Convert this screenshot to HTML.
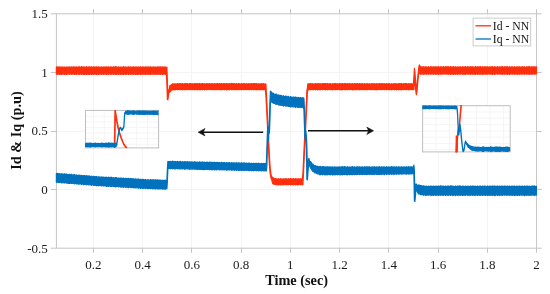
<!DOCTYPE html>
<html><head><meta charset="utf-8"><title>Id &amp; Iq</title>
<style>html,body{margin:0;padding:0;background:#fff}svg{display:block}</style></head>
<body>
<svg width="550" height="294" viewBox="0 0 550 294">
<rect width="550" height="294" fill="#fff"/>
<path d="M93.50 13.8V248.2M142.50 13.8V248.2M191.50 13.8V248.2M241.50 13.8V248.2M290.50 13.8V248.2M339.50 13.8V248.2M388.50 13.8V248.2M438.50 13.8V248.2M487.50 13.8V248.2M56.4 72.50H536.6M56.4 131.50H536.6M56.4 189.50H536.6" stroke="#f4f4f4" stroke-width="1" fill="none"/>
<path d="M56.4 13.8H536.6V248.2H56.4ZM93.50 13.8v-4.6M93.50 248.2v4.6M142.50 13.8v-4.6M142.50 248.2v4.6M191.50 13.8v-4.6M191.50 248.2v4.6M241.50 13.8v-4.6M241.50 248.2v4.6M290.50 13.8v-4.6M290.50 248.2v4.6M339.50 13.8v-4.6M339.50 248.2v4.6M388.50 13.8v-4.6M388.50 248.2v4.6M438.50 13.8v-4.6M438.50 248.2v4.6M487.50 13.8v-4.6M487.50 248.2v4.6M536.50 13.8v-4.6M536.50 248.2v4.6M56.4 13.80h-5.5M536.6 13.80h5M56.4 72.50h-5.5M536.6 72.50h5M56.4 131.50h-5.5M536.6 131.50h5M56.4 189.50h-5.5M536.6 189.50h5M56.4 248.20h-5.5M536.6 248.20h5" stroke="#c4c4c4" stroke-width="1" fill="none"/>
<polygon points="56.4,67.0 56.9,66.8 57.4,67.0 57.9,67.3 58.4,67.1 58.9,67.1 59.4,67.0 59.9,66.8 60.4,67.2 60.9,67.4 61.4,67.3 61.9,66.9 62.4,67.1 62.9,67.4 63.4,67.2 63.9,67.0 64.4,67.0 64.9,67.0 65.4,67.2 65.9,67.4 66.4,67.0 66.9,67.0 67.4,67.0 67.9,67.5 68.4,67.4 68.9,66.9 69.4,66.9 69.9,67.2 70.4,67.3 70.9,67.3 71.4,66.9 71.9,66.9 72.4,67.3 72.9,67.5 73.4,66.9 73.9,66.8 74.4,67.0 74.9,67.1 75.4,67.5 75.9,67.1 76.4,67.0 76.9,66.8 77.4,67.3 77.9,67.4 78.4,67.1 78.9,66.8 79.4,66.8 79.9,67.2 80.4,67.4 80.9,67.1 81.4,66.7 81.9,66.7 82.4,67.3 82.9,67.4 83.4,67.0 83.9,66.9 84.4,67.0 84.9,67.3 85.4,67.4 85.9,67.1 86.4,66.7 86.9,67.1 87.4,67.2 87.9,67.4 88.4,66.9 88.9,66.9 89.4,66.9 89.9,67.4 90.4,67.3 90.9,66.9 91.4,66.8 91.9,67.0 92.4,67.3 92.9,67.4 93.4,67.1 93.9,66.8 94.4,67.0 94.9,67.2 95.4,67.3 95.9,67.0 96.4,66.8 96.9,67.0 97.4,67.4 97.9,67.3 98.4,66.9 98.9,67.1 99.4,67.1 99.9,67.4 100.4,67.2 100.9,66.9 101.4,67.0 101.9,67.1 102.4,67.4 102.9,67.3 103.4,67.0 103.9,66.9 104.4,67.1 104.9,67.5 105.4,67.1 105.9,66.9 106.4,66.9 106.9,67.2 107.4,67.4 107.9,66.9 108.4,66.9 108.9,66.9 109.4,67.2 109.9,67.4 110.4,67.1 110.9,66.9 111.4,66.9 111.9,67.2 112.4,67.5 112.9,67.1 113.4,66.9 113.9,66.9 114.4,67.2 114.9,67.2 115.4,66.7 115.9,66.7 116.4,67.0 116.9,67.4 117.4,67.3 117.9,67.1 118.4,66.9 118.9,67.0 119.4,67.3 119.9,67.3 120.4,67.0 120.9,67.0 121.4,67.1 121.9,67.3 122.4,67.3 122.9,67.0 123.4,66.6 123.9,67.0 124.4,67.4 124.9,67.1 125.4,67.2 125.9,67.0 126.4,67.0 126.9,67.4 127.4,67.4 127.9,67.0 128.4,66.8 128.9,67.0 129.4,67.1 129.9,67.4 130.4,67.0 130.9,66.9 131.4,67.1 131.9,67.4 132.4,67.3 132.9,66.9 133.4,66.8 133.9,67.0 134.4,67.3 134.9,67.3 135.4,67.0 135.9,66.9 136.4,67.1 136.9,67.3 137.4,67.1 137.9,67.0 138.4,66.9 138.9,67.3 139.4,67.3 139.9,67.1 140.4,66.9 140.9,66.9 141.4,67.2 141.9,67.5 142.4,67.2 142.9,66.8 143.4,67.1 143.9,67.2 144.4,67.4 144.9,67.1 145.4,67.0 145.9,66.9 146.4,67.1 146.9,67.2 147.4,67.1 147.9,67.0 148.4,66.9 148.9,67.3 149.4,67.4 149.9,67.0 150.4,66.9 150.9,66.9 151.4,67.3 151.9,67.4 152.4,67.2 152.9,66.9 153.4,67.1 153.9,67.3 154.4,67.3 154.9,67.0 155.4,67.0 155.9,67.1 156.4,67.4 156.9,67.4 157.4,67.0 157.9,66.8 158.4,67.2 158.9,67.2 159.4,67.3 159.9,66.8 160.4,66.9 160.9,67.1 161.4,67.3 161.9,67.1 162.4,67.0 162.9,66.9 163.4,67.1 163.9,67.4 164.4,67.3 164.9,66.9 165.4,66.9 165.9,67.2 166.4,67.4 166.9,67.2 167.4,83.2 167.9,94.5 168.4,91.9 168.9,90.0 169.4,88.8 169.9,85.6 170.4,85.2 170.9,85.0 171.4,84.7 171.9,84.4 172.4,84.0 172.9,83.8 173.4,84.0 173.9,84.1 174.4,84.0 174.9,83.7 175.4,83.9 175.9,84.0 176.4,84.0 176.9,83.8 177.4,83.5 177.9,83.8 178.4,83.9 178.9,84.2 179.4,83.8 179.9,83.6 180.4,83.8 180.9,84.0 181.4,84.1 181.9,83.6 182.4,83.6 182.9,83.9 183.4,84.0 183.9,84.1 184.4,83.8 184.9,83.7 185.4,83.7 185.9,84.1 186.4,83.8 186.9,83.6 187.4,83.7 187.9,83.9 188.4,84.0 188.9,84.0 189.4,83.7 189.9,83.6 190.4,83.7 190.9,84.2 191.4,83.9 191.9,83.8 192.4,83.8 192.9,83.9 193.4,84.1 193.9,84.0 194.4,83.7 194.9,83.7 195.4,83.8 195.9,84.1 196.4,83.8 196.9,83.7 197.4,83.8 197.9,83.8 198.4,84.1 198.9,83.7 199.4,83.7 199.9,83.7 200.4,84.0 200.9,84.0 201.4,83.8 201.9,83.6 202.4,83.6 202.9,83.9 203.4,84.1 203.9,83.9 204.4,83.7 204.9,83.8 205.4,84.0 205.9,84.1 206.4,83.9 206.9,83.6 207.4,83.9 207.9,84.0 208.4,84.1 208.9,83.8 209.4,83.6 209.9,83.7 210.4,84.0 210.9,84.1 211.4,83.9 211.9,83.7 212.4,83.7 212.9,84.0 213.4,84.0 213.9,83.8 214.4,83.7 214.9,83.9 215.4,83.9 215.9,84.1 216.4,83.9 216.9,83.7 217.4,83.5 217.9,84.0 218.4,84.0 218.9,83.8 219.4,83.7 219.9,83.9 220.4,84.1 220.9,83.9 221.4,83.5 221.9,83.8 222.4,83.9 222.9,84.2 223.4,83.8 223.9,83.7 224.4,83.6 224.9,83.8 225.4,84.0 225.9,84.0 226.4,83.6 226.9,83.6 227.4,83.9 227.9,84.2 228.4,83.9 228.9,83.7 229.4,83.8 229.9,83.8 230.4,84.1 230.9,83.9 231.4,83.4 231.9,83.7 232.4,83.8 232.9,84.0 233.4,83.7 233.9,83.6 234.4,83.8 234.9,83.9 235.4,84.1 235.9,84.0 236.4,83.6 236.9,83.8 237.4,84.0 237.9,84.1 238.4,83.8 238.9,83.6 239.4,83.8 239.9,84.0 240.4,84.0 240.9,83.9 241.4,83.7 241.9,83.7 242.4,83.9 242.9,84.2 243.4,83.8 243.9,83.7 244.4,83.8 244.9,84.0 245.4,84.1 245.9,83.9 246.4,83.7 246.9,83.8 247.4,84.0 247.9,84.1 248.4,83.8 248.9,83.7 249.4,83.9 249.9,84.1 250.4,84.0 250.9,83.7 251.4,83.7 251.9,83.8 252.4,84.1 252.9,83.9 253.4,83.6 253.9,83.6 254.4,83.8 254.9,84.1 255.4,83.8 255.9,83.7 256.4,83.6 256.9,84.0 257.4,84.1 257.9,83.9 258.4,83.9 258.9,83.8 259.4,84.0 259.9,84.1 260.4,83.9 260.9,83.8 261.4,83.7 261.9,83.9 262.4,84.0 262.9,83.9 263.4,83.6 263.9,83.8 264.4,84.0 264.9,84.2 265.4,83.9 265.9,84.0 266.4,94.7 266.9,104.5 267.4,114.3 267.9,124.5 268.4,134.6 268.9,145.6 269.4,155.5 269.9,164.3 270.4,169.9 270.9,173.7 271.4,176.3 271.9,177.1 272.4,177.1 272.9,177.7 273.4,177.9 273.9,178.4 274.4,178.9 274.9,179.1 275.4,178.7 275.9,178.7 276.4,178.9 276.9,179.1 277.4,179.1 277.9,178.9 278.4,178.8 278.9,178.8 279.4,179.3 279.9,179.1 280.4,178.8 280.9,178.8 281.4,179.0 281.9,179.2 282.4,179.2 282.9,178.9 283.4,178.8 283.9,179.0 284.4,179.1 284.9,179.1 285.4,178.8 285.9,178.7 286.4,178.9 286.9,179.1 287.4,179.0 287.9,178.9 288.4,178.7 288.9,178.9 289.4,179.3 289.9,179.0 290.4,178.7 290.9,178.7 291.4,179.0 291.9,179.2 292.4,178.9 292.9,178.7 293.4,178.8 293.9,179.0 294.4,179.2 294.9,178.9 295.4,178.6 295.9,178.8 296.4,179.1 296.9,179.2 297.4,179.0 297.9,178.8 298.4,178.8 298.9,179.1 299.4,179.0 299.9,179.0 300.4,178.7 300.9,178.9 301.4,179.0 301.9,179.1 302.4,178.6 302.9,173.9 303.4,163.5 303.9,152.4 304.4,142.1 304.9,131.7 305.4,121.8 305.9,111.9 306.4,101.8 306.9,90.5 307.4,88.1 307.9,83.8 308.4,83.8 308.9,84.1 309.4,84.1 309.9,83.6 310.4,83.7 310.9,83.8 311.4,84.1 311.9,83.9 312.4,83.7 312.9,83.8 313.4,84.0 313.9,84.0 314.4,84.0 314.9,83.8 315.4,83.6 315.9,83.7 316.4,84.1 316.9,84.0 317.4,83.8 317.9,83.7 318.4,83.7 318.9,84.1 319.4,83.8 319.9,83.8 320.4,83.8 320.9,83.8 321.4,84.1 321.9,84.0 322.4,83.8 322.9,83.6 323.4,83.6 323.9,84.1 324.4,83.9 324.9,83.5 325.4,83.6 325.9,83.9 326.4,84.1 326.9,83.8 327.4,83.6 327.9,83.7 328.4,84.0 328.9,84.2 329.4,83.8 329.9,83.8 330.4,83.6 330.9,84.0 331.4,84.2 331.9,83.9 332.4,83.8 332.9,83.8 333.4,83.9 333.9,84.1 334.4,83.9 334.9,83.5 335.4,83.8 335.9,83.8 336.4,84.1 336.9,83.9 337.4,83.8 337.9,83.8 338.4,84.0 338.9,84.0 339.4,83.6 339.9,83.6 340.4,83.9 340.9,84.0 341.4,84.0 341.9,83.6 342.4,83.6 342.9,83.7 343.4,84.1 343.9,84.0 344.4,83.7 344.9,83.7 345.4,83.7 345.9,84.1 346.4,84.1 346.9,83.7 347.4,83.7 347.9,83.9 348.4,84.2 348.9,83.8 349.4,83.7 349.9,83.5 350.4,84.0 350.9,84.2 351.4,84.0 351.9,83.7 352.4,83.7 352.9,84.0 353.4,84.3 353.9,83.8 354.4,83.7 354.9,83.7 355.4,83.9 355.9,84.1 356.4,84.0 356.9,83.5 357.4,83.6 357.9,84.0 358.4,84.1 358.9,83.9 359.4,83.6 359.9,83.8 360.4,83.9 360.9,84.0 361.4,83.8 361.9,83.8 362.4,83.7 362.9,84.1 363.4,84.2 363.9,83.9 364.4,83.7 364.9,83.8 365.4,84.0 365.9,84.0 366.4,83.9 366.9,83.7 367.4,83.8 367.9,83.9 368.4,84.0 368.9,83.9 369.4,83.7 369.9,83.9 370.4,84.0 370.9,84.0 371.4,83.8 371.9,83.7 372.4,83.8 372.9,84.2 373.4,83.9 373.9,83.8 374.4,83.8 374.9,83.8 375.4,84.1 375.9,84.0 376.4,83.7 376.9,83.8 377.4,83.9 377.9,84.0 378.4,84.0 378.9,83.7 379.4,83.7 379.9,83.8 380.4,84.1 380.9,83.9 381.4,83.7 381.9,83.7 382.4,83.8 382.9,84.2 383.4,83.9 383.9,83.7 384.4,83.8 384.9,83.9 385.4,84.1 385.9,84.0 386.4,83.7 386.9,83.8 387.4,84.0 387.9,84.1 388.4,83.8 388.9,83.7 389.4,83.7 389.9,84.0 390.4,84.2 390.9,84.0 391.4,83.7 391.9,83.9 392.4,84.0 392.9,84.1 393.4,83.9 393.9,83.7 394.4,83.8 394.9,84.0 395.4,83.9 395.9,83.8 396.4,83.8 396.9,83.8 397.4,84.0 397.9,84.1 398.4,83.9 398.9,83.6 399.4,83.7 399.9,83.9 400.4,84.1 400.9,83.8 401.4,83.6 401.9,83.8 402.4,84.1 402.9,84.0 403.4,83.9 403.9,83.6 404.4,83.9 404.9,84.2 405.4,83.7 405.9,83.7 406.4,83.7 406.9,83.8 407.4,84.2 407.9,84.0 408.4,83.8 408.9,83.7 409.4,83.9 409.9,84.1 410.4,83.9 410.9,83.8 411.4,83.6 411.9,84.0 412.4,84.1 412.9,84.0 413.4,83.7 413.9,77.5 414.4,68.4 414.9,72.1 415.4,78.6 415.9,85.0 416.4,91.5 416.9,86.2 417.4,81.1 417.9,75.9 418.4,71.0 418.9,66.9 419.4,64.8 419.9,66.1 420.4,67.0 420.9,66.9 421.4,66.9 421.9,67.1 422.4,67.2 422.9,66.9 423.4,66.7 423.9,66.9 424.4,67.2 424.9,67.1 425.4,67.0 425.9,66.7 426.4,67.1 426.9,67.4 427.4,67.4 427.9,67.0 428.4,66.6 428.9,67.0 429.4,67.3 429.9,67.3 430.4,66.9 430.9,66.7 431.4,66.8 431.9,67.3 432.4,67.2 432.9,66.9 433.4,66.8 433.9,66.9 434.4,67.3 434.9,67.1 435.4,66.9 435.9,66.8 436.4,67.0 436.9,67.3 437.4,67.2 437.9,66.8 438.4,66.7 438.9,67.1 439.4,67.2 439.9,67.3 440.4,66.9 440.9,66.7 441.4,67.0 441.9,67.4 442.4,67.3 442.9,66.8 443.4,66.6 443.9,67.0 444.4,67.3 444.9,67.1 445.4,66.7 445.9,66.8 446.4,66.8 446.9,67.4 447.4,66.9 447.9,66.6 448.4,66.9 448.9,67.0 449.4,67.3 449.9,67.0 450.4,66.6 450.9,66.8 451.4,67.0 451.9,67.3 452.4,67.1 452.9,66.8 453.4,66.7 453.9,67.1 454.4,67.2 454.9,67.1 455.4,66.8 455.9,67.0 456.4,67.3 456.9,67.3 457.4,67.0 457.9,66.8 458.4,67.0 458.9,67.2 459.4,67.3 459.9,66.9 460.4,66.8 460.9,67.0 461.4,67.3 461.9,67.4 462.4,67.0 462.9,66.6 463.4,67.0 463.9,67.2 464.4,67.2 464.9,66.8 465.4,66.6 465.9,67.0 466.4,67.2 466.9,67.0 467.4,66.8 467.9,66.7 468.4,67.2 468.9,67.2 469.4,67.3 469.9,66.9 470.4,66.7 470.9,67.0 471.4,66.9 471.9,67.0 472.4,66.8 472.9,66.9 473.4,67.1 473.9,67.4 474.4,67.2 474.9,66.9 475.4,66.5 475.9,67.1 476.4,67.1 476.9,67.0 477.4,66.8 477.9,66.8 478.4,67.1 478.9,67.4 479.4,66.8 479.9,66.8 480.4,66.7 480.9,67.0 481.4,67.4 481.9,67.0 482.4,66.9 482.9,66.8 483.4,67.2 483.9,67.3 484.4,66.9 484.9,66.7 485.4,66.9 485.9,67.2 486.4,67.3 486.9,66.8 487.4,66.8 487.9,66.8 488.4,67.2 488.9,67.4 489.4,67.0 489.9,66.9 490.4,66.9 490.9,67.2 491.4,67.4 491.9,66.6 492.4,66.7 492.9,67.0 493.4,67.3 493.9,67.3 494.4,66.9 494.9,66.7 495.4,67.0 495.9,67.3 496.4,67.2 496.9,67.0 497.4,66.6 497.9,67.1 498.4,67.3 498.9,67.2 499.4,66.9 499.9,66.8 500.4,67.0 500.9,67.2 501.4,67.2 501.9,66.6 502.4,66.6 502.9,67.1 503.4,67.3 503.9,67.1 504.4,66.8 504.9,66.8 505.4,67.1 505.9,67.2 506.4,66.9 506.9,66.7 507.4,66.8 507.9,67.2 508.4,67.3 508.9,67.1 509.4,66.8 509.9,66.9 510.4,67.2 510.9,67.2 511.4,67.0 511.9,66.7 512.4,66.9 512.9,67.3 513.4,67.4 513.9,67.0 514.4,66.7 514.9,67.0 515.4,67.2 515.9,67.3 516.4,67.0 516.9,66.8 517.4,66.9 517.9,67.3 518.4,67.2 518.9,66.9 519.4,66.8 519.9,66.8 520.4,67.3 520.9,67.2 521.4,66.9 521.9,66.8 522.4,66.8 522.9,67.2 523.4,67.0 523.9,67.0 524.4,66.7 524.9,67.0 525.4,67.4 525.9,67.2 526.4,67.0 526.9,66.7 527.4,67.0 527.9,67.3 528.4,67.1 528.9,66.6 529.4,66.9 529.9,66.9 530.4,67.3 530.9,67.3 531.4,66.9 531.9,66.7 532.4,67.0 532.9,67.3 533.4,67.1 533.9,66.8 534.4,66.8 534.9,67.1 535.4,67.4 535.9,67.1 536.4,66.8 536.4,74.0 535.9,74.0 535.4,73.7 534.9,74.1 534.4,74.2 533.9,74.1 533.4,74.0 532.9,74.0 532.4,73.9 531.9,74.2 531.4,74.3 530.9,74.0 530.4,73.7 529.9,74.0 529.4,74.2 528.9,74.3 528.4,73.8 527.9,73.7 527.4,74.0 526.9,74.2 526.4,74.1 525.9,74.0 525.4,73.7 524.9,74.0 524.4,74.3 523.9,73.9 523.4,74.0 522.9,73.7 522.4,74.0 521.9,74.3 521.4,74.0 520.9,73.8 520.4,74.0 519.9,74.1 519.4,74.2 518.9,74.2 518.4,73.8 517.9,73.8 517.4,74.2 516.9,74.3 516.4,73.9 515.9,73.8 515.4,73.8 514.9,74.2 514.4,74.1 513.9,74.0 513.4,73.7 512.9,73.9 512.4,74.1 511.9,74.1 511.4,74.0 510.9,73.7 510.4,74.0 509.9,74.3 509.4,74.3 508.9,74.0 508.4,73.6 507.9,74.0 507.4,74.4 506.9,74.2 506.4,73.9 505.9,73.6 505.4,73.9 504.9,74.1 504.4,74.2 503.9,73.9 503.4,73.6 502.9,73.9 502.4,74.3 501.9,74.3 501.4,74.0 500.9,74.0 500.4,74.0 499.9,74.1 499.4,74.1 498.9,73.9 498.4,73.7 497.9,74.0 497.4,74.2 496.9,74.0 496.4,73.8 495.9,73.6 495.4,74.1 494.9,74.3 494.4,74.2 493.9,73.8 493.4,73.7 492.9,74.2 492.4,74.4 491.9,74.1 491.4,73.9 490.9,73.9 490.4,73.9 489.9,74.2 489.4,73.9 488.9,73.8 488.4,73.9 487.9,74.0 487.4,74.1 486.9,74.3 486.4,73.6 485.9,73.8 485.4,74.1 484.9,74.2 484.4,74.0 483.9,73.8 483.4,73.7 482.9,74.3 482.4,74.2 481.9,74.1 481.4,73.8 480.9,73.9 480.4,74.1 479.9,74.3 479.4,74.0 478.9,73.7 478.4,74.0 477.9,74.3 477.4,74.2 476.9,74.0 476.4,73.8 475.9,73.9 475.4,74.4 474.9,74.4 474.4,74.0 473.9,73.8 473.4,73.9 472.9,74.1 472.4,74.1 471.9,73.9 471.4,73.7 470.9,73.9 470.4,74.3 469.9,74.2 469.4,74.0 468.9,73.8 468.4,74.0 467.9,74.3 467.4,74.0 466.9,73.8 466.4,73.8 465.9,73.9 465.4,74.3 464.9,74.2 464.4,74.1 463.9,73.9 463.4,74.1 462.9,74.3 462.4,74.1 461.9,73.6 461.4,73.7 460.9,74.0 460.4,74.2 459.9,73.9 459.4,73.9 458.9,73.7 458.4,74.0 457.9,74.3 457.4,74.2 456.9,73.8 456.4,73.9 455.9,74.3 455.4,74.2 454.9,74.1 454.4,73.8 453.9,73.7 453.4,74.4 452.9,74.3 452.4,73.9 451.9,73.7 451.4,73.7 450.9,74.3 450.4,74.3 449.9,74.0 449.4,73.6 448.9,73.9 448.4,74.2 447.9,74.1 447.4,73.9 446.9,73.7 446.4,74.1 445.9,74.1 445.4,74.0 444.9,74.0 444.4,73.7 443.9,73.9 443.4,74.1 442.9,74.1 442.4,74.0 441.9,73.9 441.4,74.0 440.9,74.1 440.4,74.2 439.9,74.0 439.4,73.6 438.9,74.1 438.4,74.3 437.9,74.2 437.4,74.0 436.9,73.6 436.4,74.1 435.9,74.4 435.4,74.1 434.9,73.8 434.4,73.7 433.9,74.0 433.4,74.3 432.9,74.0 432.4,73.8 431.9,73.8 431.4,74.1 430.9,74.3 430.4,74.0 429.9,73.7 429.4,73.8 428.9,74.0 428.4,74.2 427.9,73.9 427.4,73.7 426.9,73.9 426.4,74.1 425.9,74.1 425.4,74.1 424.9,73.8 424.4,73.9 423.9,74.2 423.4,74.1 422.9,74.2 422.4,73.6 421.9,73.8 421.4,74.1 420.9,74.2 420.4,74.1 419.9,73.6 419.4,72.5 418.9,71.0 418.4,76.1 417.9,81.3 417.4,86.6 416.9,91.7 416.4,94.6 415.9,92.0 415.4,85.5 414.9,78.8 414.4,78.6 413.9,89.8 413.4,89.6 412.9,89.6 412.4,89.3 411.9,89.6 411.4,89.6 410.9,89.6 410.4,89.4 409.9,89.3 409.4,89.6 408.9,89.6 408.4,89.8 407.9,89.4 407.4,89.2 406.9,89.4 406.4,89.6 405.9,89.8 405.4,89.4 404.9,89.4 404.4,89.5 403.9,89.8 403.4,89.6 402.9,89.4 402.4,89.3 401.9,89.7 401.4,89.8 400.9,89.5 400.4,89.4 399.9,89.6 399.4,89.7 398.9,89.7 398.4,89.6 397.9,89.4 397.4,89.3 396.9,89.6 396.4,89.9 395.9,89.6 395.4,89.3 394.9,89.4 394.4,89.6 393.9,89.7 393.4,89.4 392.9,89.2 392.4,89.4 391.9,89.8 391.4,89.7 390.9,89.6 390.4,89.3 389.9,89.6 389.4,89.7 388.9,89.7 388.4,89.6 387.9,89.3 387.4,89.5 386.9,89.6 386.4,89.7 385.9,89.5 385.4,89.2 384.9,89.5 384.4,89.7 383.9,89.7 383.4,89.5 382.9,89.2 382.4,89.5 381.9,89.7 381.4,89.7 380.9,89.5 380.4,89.3 379.9,89.5 379.4,89.7 378.9,89.7 378.4,89.4 377.9,89.3 377.4,89.5 376.9,89.8 376.4,89.7 375.9,89.4 375.4,89.4 374.9,89.7 374.4,89.7 373.9,89.6 373.4,89.5 372.9,89.3 372.4,89.6 371.9,89.7 371.4,89.6 370.9,89.5 370.4,89.4 369.9,89.6 369.4,89.7 368.9,89.5 368.4,89.3 367.9,89.3 367.4,89.7 366.9,89.7 366.4,89.6 365.9,89.3 365.4,89.4 364.9,89.6 364.4,89.8 363.9,89.6 363.4,89.4 362.9,89.4 362.4,89.5 361.9,89.8 361.4,89.6 360.9,89.3 360.4,89.4 359.9,89.8 359.4,89.7 358.9,89.6 358.4,89.3 357.9,89.3 357.4,89.7 356.9,89.7 356.4,89.6 355.9,89.4 355.4,89.4 354.9,89.6 354.4,89.7 353.9,89.6 353.4,89.4 352.9,89.7 352.4,89.8 351.9,89.7 351.4,89.5 350.9,89.3 350.4,89.5 349.9,89.6 349.4,89.7 348.9,89.5 348.4,89.3 347.9,89.4 347.4,89.7 346.9,89.7 346.4,89.3 345.9,89.4 345.4,89.5 344.9,89.8 344.4,89.6 343.9,89.3 343.4,89.4 342.9,89.5 342.4,89.9 341.9,89.6 341.4,89.4 340.9,89.4 340.4,89.7 339.9,89.8 339.4,89.5 338.9,89.4 338.4,89.5 337.9,89.6 337.4,89.7 336.9,89.6 336.4,89.3 335.9,89.4 335.4,89.7 334.9,89.7 334.4,89.5 333.9,89.3 333.4,89.4 332.9,89.7 332.4,89.8 331.9,89.8 331.4,89.4 330.9,89.4 330.4,89.7 329.9,89.7 329.4,89.5 328.9,89.4 328.4,89.5 327.9,89.6 327.4,89.8 326.9,89.5 326.4,89.2 325.9,89.5 325.4,89.9 324.9,89.6 324.4,89.5 323.9,89.3 323.4,89.5 322.9,89.6 322.4,89.6 321.9,89.3 321.4,89.3 320.9,89.6 320.4,89.6 319.9,89.9 319.4,89.4 318.9,89.4 318.4,89.5 317.9,89.8 317.4,89.8 316.9,89.4 316.4,89.2 315.9,89.7 315.4,89.8 314.9,89.5 314.4,89.4 313.9,89.3 313.4,89.6 312.9,89.6 312.4,89.7 311.9,89.5 311.4,89.2 310.9,89.6 310.4,89.7 309.9,89.6 309.4,89.5 308.9,89.3 308.4,89.6 307.9,90.4 307.4,91.9 306.9,102.2 306.4,112.5 305.9,122.5 305.4,132.4 304.9,142.5 304.4,153.8 303.9,164.1 303.4,174.5 302.9,184.6 302.4,184.7 301.9,184.3 301.4,184.5 300.9,184.7 300.4,184.7 299.9,184.5 299.4,184.4 298.9,184.4 298.4,184.8 297.9,184.8 297.4,184.8 296.9,184.4 296.4,184.5 295.9,184.8 295.4,184.8 294.9,184.6 294.4,184.3 293.9,184.6 293.4,184.8 292.9,184.7 292.4,184.6 291.9,184.6 291.4,184.6 290.9,184.7 290.4,184.8 289.9,184.5 289.4,184.3 288.9,184.6 288.4,184.7 287.9,184.8 287.4,184.5 286.9,184.4 286.4,184.6 285.9,184.7 285.4,184.7 284.9,184.5 284.4,184.4 283.9,184.6 283.4,184.8 282.9,184.8 282.4,184.5 281.9,184.4 281.4,184.7 280.9,184.8 280.4,185.0 279.9,184.5 279.4,184.5 278.9,184.6 278.4,184.9 277.9,184.7 277.4,184.4 276.9,184.4 276.4,184.6 275.9,184.8 275.4,184.6 274.9,184.3 274.4,184.1 273.9,184.1 273.4,184.1 272.9,183.8 272.4,182.9 271.9,180.1 271.4,179.1 270.9,177.5 270.4,174.9 269.9,170.6 269.4,165.0 268.9,156.1 268.4,146.3 267.9,136.1 267.4,124.9 266.9,114.8 266.4,105.1 265.9,95.4 265.4,89.5 264.9,89.3 264.4,89.5 263.9,89.8 263.4,89.7 262.9,89.6 262.4,89.3 261.9,89.6 261.4,89.7 260.9,89.8 260.4,89.5 259.9,89.2 259.4,89.6 258.9,89.7 258.4,89.7 257.9,89.3 257.4,89.4 256.9,89.6 256.4,89.7 255.9,89.8 255.4,89.5 254.9,89.3 254.4,89.6 253.9,89.8 253.4,89.7 252.9,89.4 252.4,89.3 251.9,89.6 251.4,89.6 250.9,89.6 250.4,89.4 249.9,89.5 249.4,89.7 248.9,89.7 248.4,89.6 247.9,89.3 247.4,89.3 246.9,89.7 246.4,89.7 245.9,89.7 245.4,89.2 244.9,89.4 244.4,89.5 243.9,89.8 243.4,89.5 242.9,89.4 242.4,89.3 241.9,89.6 241.4,89.8 240.9,89.6 240.4,89.4 239.9,89.5 239.4,89.6 238.9,89.6 238.4,89.5 237.9,89.4 237.4,89.4 236.9,89.7 236.4,89.7 235.9,89.6 235.4,89.3 234.9,89.4 234.4,89.7 233.9,89.8 233.4,89.6 232.9,89.3 232.4,89.5 231.9,89.6 231.4,89.6 230.9,89.5 230.4,89.2 229.9,89.5 229.4,89.7 228.9,89.8 228.4,89.4 227.9,89.3 227.4,89.8 226.9,89.8 226.4,89.7 225.9,89.5 225.4,89.3 224.9,89.5 224.4,89.8 223.9,89.6 223.4,89.4 222.9,89.3 222.4,89.6 221.9,89.6 221.4,89.6 220.9,89.4 220.4,89.4 219.9,89.7 219.4,89.7 218.9,89.6 218.4,89.4 217.9,89.2 217.4,89.6 216.9,89.7 216.4,89.6 215.9,89.5 215.4,89.4 214.9,89.7 214.4,89.7 213.9,89.6 213.4,89.4 212.9,89.3 212.4,89.6 211.9,89.7 211.4,89.7 210.9,89.4 210.4,89.4 209.9,89.5 209.4,89.7 208.9,89.5 208.4,89.2 207.9,89.4 207.4,89.6 206.9,89.7 206.4,89.4 205.9,89.2 205.4,89.4 204.9,89.8 204.4,89.8 203.9,89.4 203.4,89.3 202.9,89.4 202.4,89.7 201.9,89.6 201.4,89.4 200.9,89.4 200.4,89.8 199.9,89.7 199.4,89.7 198.9,89.6 198.4,89.3 197.9,89.4 197.4,89.8 196.9,89.7 196.4,89.4 195.9,89.2 195.4,89.4 194.9,89.7 194.4,89.7 193.9,89.6 193.4,89.3 192.9,89.6 192.4,89.7 191.9,89.7 191.4,89.4 190.9,89.3 190.4,89.5 189.9,89.8 189.4,89.6 188.9,89.4 188.4,89.3 187.9,89.6 187.4,89.7 186.9,89.7 186.4,89.2 185.9,89.4 185.4,89.6 184.9,89.7 184.4,89.6 183.9,89.5 183.4,89.3 182.9,89.7 182.4,89.9 181.9,89.6 181.4,89.3 180.9,89.3 180.4,89.6 179.9,89.8 179.4,89.5 178.9,89.4 178.4,89.4 177.9,89.7 177.4,89.6 176.9,89.5 176.4,89.2 175.9,89.4 175.4,89.8 174.9,89.8 174.4,89.5 173.9,89.4 173.4,89.7 172.9,89.8 172.4,90.0 171.9,89.9 171.4,90.1 170.9,90.6 170.4,91.4 169.9,92.0 169.4,91.1 168.9,92.8 168.4,95.8 167.9,99.6 167.4,99.6 166.9,83.9 166.4,73.8 165.9,73.9 165.4,74.4 164.9,74.2 164.4,73.9 163.9,73.8 163.4,74.0 162.9,74.2 162.4,74.4 161.9,74.0 161.4,74.0 160.9,74.1 160.4,74.3 159.9,74.4 159.4,74.0 158.9,73.8 158.4,74.1 157.9,74.3 157.4,74.3 156.9,74.0 156.4,73.9 155.9,74.1 155.4,74.2 154.9,74.1 154.4,74.2 153.9,74.0 153.4,74.1 152.9,74.2 152.4,74.1 151.9,73.8 151.4,74.0 150.9,74.3 150.4,74.5 149.9,74.5 149.4,73.8 148.9,74.1 148.4,74.2 147.9,74.3 147.4,74.2 146.9,74.0 146.4,73.9 145.9,74.3 145.4,74.4 144.9,74.3 144.4,73.8 143.9,74.1 143.4,74.2 142.9,74.2 142.4,74.2 141.9,73.8 141.4,74.2 140.9,74.3 140.4,74.4 139.9,74.1 139.4,73.8 138.9,74.1 138.4,74.3 137.9,74.5 137.4,74.2 136.9,73.9 136.4,74.3 135.9,74.3 135.4,74.4 134.9,74.0 134.4,73.7 133.9,74.0 133.4,74.3 132.9,74.3 132.4,74.1 131.9,73.9 131.4,74.0 130.9,74.2 130.4,74.2 129.9,73.9 129.4,73.9 128.9,74.1 128.4,74.4 127.9,74.1 127.4,73.8 126.9,73.8 126.4,74.2 125.9,74.6 125.4,74.2 124.9,73.9 124.4,73.9 123.9,74.3 123.4,74.4 122.9,74.2 122.4,74.1 121.9,74.2 121.4,74.2 120.9,74.2 120.4,74.4 119.9,73.7 119.4,73.9 118.9,74.3 118.4,74.5 117.9,74.1 117.4,73.8 116.9,73.9 116.4,74.2 115.9,74.5 115.4,74.2 114.9,73.8 114.4,74.0 113.9,74.2 113.4,74.3 112.9,74.1 112.4,73.7 111.9,73.9 111.4,74.3 110.9,74.3 110.4,74.0 109.9,73.7 109.4,73.9 108.9,74.2 108.4,74.3 107.9,73.9 107.4,73.8 106.9,74.2 106.4,74.3 105.9,74.3 105.4,74.1 104.9,73.8 104.4,73.9 103.9,74.4 103.4,74.4 102.9,73.8 102.4,73.6 101.9,74.1 101.4,74.3 100.9,74.2 100.4,74.0 99.9,73.8 99.4,74.2 98.9,74.2 98.4,74.3 97.9,74.0 97.4,73.9 96.9,74.1 96.4,74.5 95.9,74.2 95.4,74.0 94.9,73.9 94.4,74.1 93.9,74.4 93.4,74.3 92.9,73.9 92.4,73.9 91.9,74.4 91.4,74.4 90.9,74.1 90.4,73.8 89.9,74.0 89.4,74.5 88.9,74.5 88.4,74.2 87.9,74.0 87.4,73.9 86.9,74.2 86.4,74.4 85.9,74.1 85.4,73.9 84.9,74.0 84.4,74.5 83.9,74.4 83.4,74.3 82.9,73.8 82.4,74.0 81.9,74.3 81.4,74.3 80.9,74.0 80.4,73.8 79.9,74.2 79.4,74.3 78.9,74.3 78.4,74.0 77.9,73.8 77.4,74.0 76.9,74.3 76.4,74.5 75.9,74.0 75.4,73.8 74.9,74.2 74.4,74.3 73.9,74.3 73.4,74.0 72.9,73.8 72.4,74.1 71.9,74.3 71.4,74.2 70.9,74.0 70.4,73.8 69.9,74.1 69.4,74.2 68.9,74.2 68.4,74.0 67.9,73.7 67.4,74.0 66.9,74.4 66.4,74.4 65.9,74.0 65.4,73.8 64.9,74.2 64.4,74.4 63.9,74.1 63.4,73.9 62.9,73.8 62.4,74.2 61.9,74.2 61.4,74.5 60.9,73.9 60.4,74.0 59.9,74.2 59.4,74.4 58.9,74.2 58.4,73.8 57.9,73.8 57.4,74.2 56.9,74.4 56.4,74.0" fill="#ff2e0c" stroke="#ff2e0c" stroke-width="1.2" stroke-linejoin="round"/>
<polygon points="56.4,173.6 56.9,173.4 57.4,173.3 57.9,173.8 58.4,173.9 58.9,173.7 59.4,173.6 59.9,173.9 60.4,174.2 60.9,174.1 61.4,173.9 61.9,173.7 62.4,173.9 62.9,174.6 63.4,174.5 63.9,174.0 64.4,173.9 64.9,173.8 65.4,174.4 65.9,174.7 66.4,174.1 66.9,174.2 67.4,174.6 67.9,174.7 68.4,174.6 68.9,174.5 69.4,174.3 69.9,174.6 70.4,174.9 70.9,174.9 71.4,174.4 71.9,174.6 72.4,175.0 72.9,175.0 73.4,175.2 73.9,174.7 74.4,174.6 74.9,175.4 75.4,175.2 75.9,175.2 76.4,174.9 76.9,175.0 77.4,175.6 77.9,175.6 78.4,175.5 78.9,175.0 79.4,175.3 79.9,175.4 80.4,176.0 80.9,175.7 81.4,175.3 81.9,175.5 82.4,175.8 82.9,176.0 83.4,175.6 83.9,175.6 84.4,175.6 84.9,175.9 85.4,176.3 85.9,176.1 86.4,175.6 86.9,175.6 87.4,176.4 87.9,176.4 88.4,176.2 88.9,175.8 89.4,176.1 89.9,176.6 90.4,176.8 90.9,176.3 91.4,176.2 91.9,176.3 92.4,176.9 92.9,176.9 93.4,176.4 93.9,176.4 94.4,176.5 94.9,177.1 95.4,177.1 95.9,176.5 96.4,176.4 96.9,176.8 97.4,177.0 97.9,177.3 98.4,176.8 98.9,176.8 99.4,177.0 99.9,177.2 100.4,177.2 100.9,177.0 101.4,176.9 101.9,177.2 102.4,177.4 102.9,177.1 103.4,177.1 103.9,177.3 104.4,177.3 104.9,177.7 105.4,177.6 105.9,177.1 106.4,177.3 106.9,177.4 107.4,177.7 107.9,177.5 108.4,177.2 108.9,177.3 109.4,177.7 109.9,178.0 110.4,177.4 110.9,177.5 111.4,177.2 111.9,178.0 112.4,178.2 112.9,177.8 113.4,177.7 113.9,177.8 114.4,178.0 114.9,178.4 115.4,177.7 115.9,177.6 116.4,177.7 116.9,178.3 117.4,178.4 117.9,178.1 118.4,178.0 118.9,178.1 119.4,178.3 119.9,178.4 120.4,178.0 120.9,178.1 121.4,178.1 121.9,178.6 122.4,178.6 122.9,178.1 123.4,178.1 123.9,178.4 124.4,178.8 124.9,178.7 125.4,178.5 125.9,178.3 126.4,178.6 126.9,179.0 127.4,178.9 127.9,178.3 128.4,178.3 128.9,178.8 129.4,179.1 129.9,178.9 130.4,178.5 130.9,178.5 131.4,178.7 131.9,179.3 132.4,179.1 132.9,178.7 133.4,178.8 133.9,179.3 134.4,179.2 134.9,179.3 135.4,179.1 135.9,178.8 136.4,179.3 136.9,179.7 137.4,179.4 137.9,178.9 138.4,179.0 138.9,179.5 139.4,179.8 139.9,179.4 140.4,179.3 140.9,179.3 141.4,179.7 141.9,180.1 142.4,179.5 142.9,179.3 143.4,179.4 143.9,179.9 144.4,180.0 144.9,179.6 145.4,179.6 145.9,179.6 146.4,180.2 146.9,180.2 147.4,179.9 147.9,179.7 148.4,179.8 148.9,180.0 149.4,180.2 149.9,179.9 150.4,179.5 150.9,179.8 151.4,180.1 151.9,180.0 152.4,180.0 152.9,179.7 153.4,179.9 153.9,179.9 154.4,180.3 154.9,179.9 155.4,179.8 155.9,179.9 156.4,180.6 156.9,180.2 157.4,179.8 157.9,180.0 158.4,180.0 158.9,180.6 159.4,180.2 159.9,180.1 160.4,180.0 160.9,180.1 161.4,180.6 161.9,180.5 162.4,180.3 162.9,180.2 163.4,180.3 163.9,180.8 164.4,180.6 164.9,180.1 165.4,180.1 165.9,180.5 166.4,180.7 166.9,180.3 167.4,168.0 167.9,161.4 168.4,161.5 168.9,161.8 169.4,161.5 169.9,161.5 170.4,161.3 170.9,161.6 171.4,161.8 171.9,161.6 172.4,161.4 172.9,161.1 173.4,161.8 173.9,162.0 174.4,161.7 174.9,161.4 175.4,161.5 175.9,161.9 176.4,162.1 176.9,161.7 177.4,161.4 177.9,161.5 178.4,161.9 178.9,162.1 179.4,161.7 179.9,161.4 180.4,161.4 180.9,161.9 181.4,162.0 181.9,161.9 182.4,161.7 182.9,161.8 183.4,162.1 183.9,162.1 184.4,161.7 184.9,161.8 185.4,161.9 185.9,161.9 186.4,162.0 186.9,161.8 187.4,161.7 187.9,161.9 188.4,162.0 188.9,162.1 189.4,161.8 189.9,161.9 190.4,161.9 190.9,162.4 191.4,162.0 191.9,161.8 192.4,161.9 192.9,162.2 193.4,162.3 193.9,162.3 194.4,161.8 194.9,161.8 195.4,162.1 195.9,162.5 196.4,162.3 196.9,162.0 197.4,162.0 197.9,162.2 198.4,162.4 198.9,162.3 199.4,161.9 199.9,162.1 200.4,162.2 200.9,162.5 201.4,162.3 201.9,161.9 202.4,162.1 202.9,162.4 203.4,162.6 203.9,162.2 204.4,162.2 204.9,162.4 205.4,162.6 205.9,162.7 206.4,162.3 206.9,162.1 207.4,162.1 207.9,162.6 208.4,162.8 208.9,162.4 209.4,162.2 209.9,162.0 210.4,162.5 210.9,162.6 211.4,162.4 211.9,162.2 212.4,162.5 212.9,162.6 213.4,162.7 213.9,162.3 214.4,162.3 214.9,162.4 215.4,162.9 215.9,162.5 216.4,162.6 216.9,162.4 217.4,162.5 217.9,162.8 218.4,162.8 218.9,162.5 219.4,162.5 219.9,162.7 220.4,162.9 220.9,162.8 221.4,162.4 221.9,162.4 222.4,162.8 222.9,163.0 223.4,162.8 223.9,162.6 224.4,162.6 224.9,162.9 225.4,163.0 225.9,162.9 226.4,162.7 226.9,162.7 227.4,162.9 227.9,163.0 228.4,162.9 228.9,162.6 229.4,162.7 229.9,163.0 230.4,163.2 230.9,163.1 231.4,162.8 231.9,162.7 232.4,163.0 232.9,163.3 233.4,162.8 233.9,162.8 234.4,162.9 234.9,163.3 235.4,163.5 235.9,162.8 236.4,162.8 236.9,162.8 237.4,163.2 237.9,163.4 238.4,162.9 238.9,162.8 239.4,163.0 239.9,163.3 240.4,163.3 240.9,163.2 241.4,162.7 241.9,163.1 242.4,163.4 242.9,163.6 243.4,163.0 243.9,162.9 244.4,162.9 244.9,163.6 245.4,163.6 245.9,163.1 246.4,163.1 246.9,163.2 247.4,163.7 247.9,163.5 248.4,163.2 248.9,162.9 249.4,163.3 249.9,163.7 250.4,163.7 250.9,163.4 251.4,163.2 251.9,163.5 252.4,163.7 252.9,163.5 253.4,163.3 253.9,163.3 254.4,163.6 254.9,163.9 255.4,163.6 255.9,163.3 256.4,163.3 256.9,163.5 257.4,163.8 257.9,163.6 258.4,163.2 258.9,163.3 259.4,163.7 259.9,163.9 260.4,163.7 260.9,163.5 261.4,163.4 261.9,163.7 262.4,163.9 262.9,163.6 263.4,163.5 263.9,163.5 264.4,163.5 264.9,164.1 265.4,163.7 265.9,163.3 266.4,163.4 266.9,147.2 267.4,132.0 267.9,127.1 268.4,132.2 268.9,125.8 269.4,119.1 269.9,102.3 270.4,91.2 270.9,91.4 271.4,92.1 271.9,92.7 272.4,93.4 272.9,93.4 273.4,93.2 273.9,93.8 274.4,94.5 274.9,94.5 275.4,94.3 275.9,94.2 276.4,94.2 276.9,94.7 277.4,95.1 277.9,95.0 278.4,94.9 278.9,95.2 279.4,95.6 279.9,95.4 280.4,95.5 280.9,95.3 281.4,95.7 281.9,96.2 282.4,96.4 282.9,96.0 283.4,95.7 283.9,96.4 284.4,96.7 284.9,96.6 285.4,96.2 285.9,95.9 286.4,96.7 286.9,96.9 287.4,96.9 287.9,96.6 288.4,96.3 288.9,97.2 289.4,97.3 289.9,97.3 290.4,96.7 290.9,96.8 291.4,97.2 291.9,97.6 292.4,97.5 292.9,97.0 293.4,97.1 293.9,97.1 294.4,98.0 294.9,97.5 295.4,97.0 295.9,97.0 296.4,97.9 296.9,98.1 297.4,97.7 297.9,97.4 298.4,97.6 298.9,97.9 299.4,98.2 299.9,97.8 300.4,97.5 300.9,97.6 301.4,98.0 301.9,98.2 302.4,97.9 302.9,97.6 303.4,98.1 303.9,98.3 304.4,108.7 304.9,124.1 305.4,129.8 305.9,131.4 306.4,136.1 306.9,147.8 307.4,172.7 307.9,166.0 308.4,159.6 308.9,158.3 309.4,160.5 309.9,161.1 310.4,161.5 310.9,162.0 311.4,162.7 311.9,163.6 312.4,164.0 312.9,164.1 313.4,164.7 313.9,165.4 314.4,165.8 314.9,165.6 315.4,165.7 315.9,165.9 316.4,166.5 316.9,166.5 317.4,166.3 317.9,166.3 318.4,166.7 318.9,167.0 319.4,166.7 319.9,166.4 320.4,166.4 320.9,166.9 321.4,167.2 321.9,166.9 322.4,166.7 322.9,166.6 323.4,166.7 323.9,167.3 324.4,167.0 324.9,166.8 325.4,166.8 325.9,167.3 326.4,167.5 326.9,166.9 327.4,166.8 327.9,166.9 328.4,167.1 328.9,167.3 329.4,167.2 329.9,166.7 330.4,167.0 330.9,167.1 331.4,167.4 331.9,167.0 332.4,166.9 332.9,167.0 333.4,167.4 333.9,167.3 334.4,167.1 334.9,166.9 335.4,167.0 335.9,167.5 336.4,167.1 336.9,167.1 337.4,167.0 337.9,167.0 338.4,167.5 338.9,167.2 339.4,166.9 339.9,166.9 340.4,167.1 340.9,167.4 341.4,167.3 341.9,166.7 342.4,166.7 342.9,166.9 343.4,167.4 343.9,167.1 344.4,166.6 344.9,166.7 345.4,167.1 345.9,167.1 346.4,167.2 346.9,167.0 347.4,166.7 347.9,167.1 348.4,167.2 348.9,167.4 349.4,167.0 349.9,166.9 350.4,167.4 350.9,167.4 351.4,167.0 351.9,166.8 352.4,166.6 352.9,167.1 353.4,167.5 353.9,167.0 354.4,166.9 354.9,166.9 355.4,167.2 355.9,167.4 356.4,167.0 356.9,166.8 357.4,166.8 357.9,167.2 358.4,167.4 358.9,166.9 359.4,166.9 359.9,166.9 360.4,167.3 360.9,167.3 361.4,167.0 361.9,166.9 362.4,166.9 362.9,167.3 363.4,167.4 363.9,167.0 364.4,166.8 364.9,166.9 365.4,167.1 365.9,167.4 366.4,167.0 366.9,166.6 367.4,166.9 367.9,167.4 368.4,167.2 368.9,166.8 369.4,166.8 369.9,167.1 370.4,167.3 370.9,167.3 371.4,167.0 371.9,166.9 372.4,166.9 372.9,167.4 373.4,167.2 373.9,166.8 374.4,166.8 374.9,166.8 375.4,167.3 375.9,167.3 376.4,166.9 376.9,167.0 377.4,167.1 377.9,167.3 378.4,167.2 378.9,166.8 379.4,166.7 379.9,167.1 380.4,167.4 380.9,167.3 381.4,166.9 381.9,166.8 382.4,167.2 382.9,167.3 383.4,167.1 383.9,166.8 384.4,166.9 384.9,167.2 385.4,167.5 385.9,167.2 386.4,166.7 386.9,166.9 387.4,167.2 387.9,167.3 388.4,167.0 388.9,166.9 389.4,167.0 389.9,167.2 390.4,167.5 390.9,167.0 391.4,166.7 391.9,166.7 392.4,167.1 392.9,167.3 393.4,167.0 393.9,166.8 394.4,166.9 394.9,167.3 395.4,167.3 395.9,167.1 396.4,166.7 396.9,167.0 397.4,167.2 397.9,167.2 398.4,167.1 398.9,166.8 399.4,167.0 399.9,167.3 400.4,167.2 400.9,167.0 401.4,166.9 401.9,166.9 402.4,167.3 402.9,167.2 403.4,166.9 403.9,166.9 404.4,167.0 404.9,167.3 405.4,167.0 405.9,167.0 406.4,166.7 406.9,167.1 407.4,167.4 407.9,167.2 408.4,166.8 408.9,166.7 409.4,167.0 409.9,167.2 410.4,167.2 410.9,166.8 411.4,166.9 411.9,167.1 412.4,167.3 412.9,167.0 413.4,166.8 413.9,165.1 414.4,170.7 414.9,195.4 415.4,189.8 415.9,184.0 416.4,184.1 416.9,184.8 417.4,185.4 417.9,185.2 418.4,185.0 418.9,184.9 419.4,185.5 419.9,186.0 420.4,185.6 420.9,185.6 421.4,185.7 421.9,186.1 422.4,186.4 422.9,186.1 423.4,185.8 423.9,185.8 424.4,186.4 424.9,186.5 425.4,186.4 425.9,186.0 426.4,186.3 426.9,186.6 427.4,186.5 427.9,186.3 428.4,186.1 428.9,186.3 429.4,186.7 429.9,186.7 430.4,186.0 430.9,186.0 431.4,186.1 431.9,186.8 432.4,186.4 432.9,186.5 433.4,186.1 433.9,186.0 434.4,186.9 434.9,186.5 435.4,186.1 435.9,186.1 436.4,186.1 436.9,186.6 437.4,186.5 437.9,186.1 438.4,186.0 438.9,186.0 439.4,186.8 439.9,186.4 440.4,185.8 440.9,185.8 441.4,186.3 441.9,186.6 442.4,186.4 442.9,186.1 443.4,186.2 443.9,186.3 444.4,186.6 444.9,186.6 445.4,186.1 445.9,186.0 446.4,186.4 446.9,186.8 447.4,186.4 447.9,185.9 448.4,186.1 448.9,186.5 449.4,186.7 449.9,186.2 450.4,186.1 450.9,185.8 451.4,186.1 451.9,186.7 452.4,186.2 452.9,186.0 453.4,186.3 453.9,186.8 454.4,186.9 454.9,186.3 455.4,186.0 455.9,186.1 456.4,186.6 456.9,186.7 457.4,186.2 457.9,186.2 458.4,186.0 458.9,186.6 459.4,186.7 459.9,185.7 460.4,186.0 460.9,186.2 461.4,186.6 461.9,186.5 462.4,186.3 462.9,185.9 463.4,186.3 463.9,186.6 464.4,186.7 464.9,186.4 465.4,186.0 465.9,186.3 466.4,186.7 466.9,186.6 467.4,186.2 467.9,186.0 468.4,186.5 468.9,186.8 469.4,186.6 469.9,186.2 470.4,186.0 470.9,186.3 471.4,186.6 471.9,186.2 472.4,186.0 472.9,186.0 473.4,186.3 473.9,186.7 474.4,186.4 474.9,186.2 475.4,186.3 475.9,186.4 476.4,186.7 476.9,186.4 477.4,186.1 477.9,186.2 478.4,186.7 478.9,186.8 479.4,186.3 479.9,186.0 480.4,186.0 480.9,186.5 481.4,186.5 481.9,186.3 482.4,186.1 482.9,186.1 483.4,186.5 483.9,186.7 484.4,186.2 484.9,185.9 485.4,186.2 485.9,186.7 486.4,186.7 486.9,186.4 487.4,185.9 487.9,186.2 488.4,186.8 488.9,186.7 489.4,186.1 489.9,186.2 490.4,186.1 490.9,186.4 491.4,186.8 491.9,186.1 492.4,186.1 492.9,186.1 493.4,186.6 493.9,186.4 494.4,186.0 494.9,186.0 495.4,186.3 495.9,186.6 496.4,186.5 496.9,186.2 497.4,186.1 497.9,186.1 498.4,186.7 498.9,186.4 499.4,186.1 499.9,186.3 500.4,186.3 500.9,186.6 501.4,186.4 501.9,186.0 502.4,186.0 502.9,186.3 503.4,186.8 503.9,186.3 504.4,186.1 504.9,186.1 505.4,186.3 505.9,186.7 506.4,186.5 506.9,186.1 507.4,186.1 507.9,186.3 508.4,186.6 508.9,186.4 509.4,186.2 509.9,186.2 510.4,186.5 510.9,186.8 511.4,186.2 511.9,186.0 512.4,186.2 512.9,186.3 513.4,186.7 513.9,186.2 514.4,186.0 514.9,186.3 515.4,186.6 515.9,186.7 516.4,186.3 516.9,186.0 517.4,186.2 517.9,186.7 518.4,186.7 518.9,186.2 519.4,186.1 519.9,186.1 520.4,186.7 520.9,186.6 521.4,186.3 521.9,186.2 522.4,186.2 522.9,186.6 523.4,186.5 523.9,186.2 524.4,186.0 524.9,186.1 525.4,186.7 525.9,186.6 526.4,186.2 526.9,186.2 527.4,186.2 527.9,186.8 528.4,186.7 528.9,186.1 529.4,186.2 529.9,186.4 530.4,186.9 530.9,186.7 531.4,186.2 531.9,186.1 532.4,186.1 532.9,186.8 533.4,186.3 533.9,185.8 534.4,185.9 534.9,186.5 535.4,186.9 535.9,186.4 536.4,186.3 536.4,195.1 535.9,194.9 535.4,194.9 534.9,195.1 534.4,195.4 533.9,195.3 533.4,194.9 532.9,194.6 532.4,195.0 531.9,195.2 531.4,195.2 530.9,195.1 530.4,194.9 529.9,195.2 529.4,195.2 528.9,195.4 528.4,195.1 527.9,194.6 527.4,195.1 526.9,195.4 526.4,195.2 525.9,195.0 525.4,194.8 524.9,195.4 524.4,195.6 523.9,195.4 523.4,194.9 522.9,194.5 522.4,195.1 521.9,195.2 521.4,195.2 520.9,194.8 520.4,194.8 519.9,195.1 519.4,195.5 518.9,195.2 518.4,194.6 517.9,194.7 517.4,195.4 516.9,195.3 516.4,194.9 515.9,194.9 515.4,194.9 514.9,195.6 514.4,195.5 513.9,195.2 513.4,194.7 512.9,194.8 512.4,195.3 511.9,195.4 511.4,195.0 510.9,194.5 510.4,194.8 509.9,195.5 509.4,195.3 508.9,195.1 508.4,194.6 507.9,195.1 507.4,195.2 506.9,195.2 506.4,195.2 505.9,194.7 505.4,195.0 504.9,195.2 504.4,195.1 503.9,195.1 503.4,194.8 502.9,195.0 502.4,195.4 501.9,195.3 501.4,195.0 500.9,194.7 500.4,194.9 499.9,195.4 499.4,195.4 498.9,194.7 498.4,194.7 497.9,195.3 497.4,195.4 496.9,195.0 496.4,194.7 495.9,194.6 495.4,195.4 494.9,195.7 494.4,195.3 493.9,194.6 493.4,194.8 492.9,195.3 492.4,195.3 491.9,195.3 491.4,194.8 490.9,194.8 490.4,195.2 489.9,195.5 489.4,195.3 488.9,195.0 488.4,194.9 487.9,195.2 487.4,195.5 486.9,195.0 486.4,194.8 485.9,195.0 485.4,195.5 484.9,195.2 484.4,195.1 483.9,194.7 483.4,194.9 482.9,195.3 482.4,195.3 481.9,195.1 481.4,194.8 480.9,195.1 480.4,195.3 479.9,195.4 479.4,195.1 478.9,194.6 478.4,195.0 477.9,195.4 477.4,195.4 476.9,195.0 476.4,194.7 475.9,195.0 475.4,195.3 474.9,195.5 474.4,194.9 473.9,194.8 473.4,195.0 472.9,195.3 472.4,195.4 471.9,195.1 471.4,194.6 470.9,195.0 470.4,195.3 469.9,195.4 469.4,195.0 468.9,194.7 468.4,195.0 467.9,195.5 467.4,195.2 466.9,195.0 466.4,194.6 465.9,195.0 465.4,195.4 464.9,195.4 464.4,194.9 463.9,194.9 463.4,195.1 462.9,195.4 462.4,195.3 461.9,194.8 461.4,195.0 460.9,195.1 460.4,195.4 459.9,195.2 459.4,194.8 458.9,195.0 458.4,195.1 457.9,195.3 457.4,195.3 456.9,194.7 456.4,194.8 455.9,195.1 455.4,195.6 454.9,195.0 454.4,194.8 453.9,194.8 453.4,195.2 452.9,195.7 452.4,195.2 451.9,194.8 451.4,194.9 450.9,195.1 450.4,195.4 449.9,195.0 449.4,194.6 448.9,194.8 448.4,195.4 447.9,195.3 447.4,195.2 446.9,194.8 446.4,194.8 445.9,195.3 445.4,195.5 444.9,194.9 444.4,194.5 443.9,194.9 443.4,195.3 442.9,195.4 442.4,195.0 441.9,194.6 441.4,194.9 440.9,195.2 440.4,195.3 439.9,194.9 439.4,194.8 438.9,195.2 438.4,195.4 437.9,195.2 437.4,195.0 436.9,194.6 436.4,195.1 435.9,195.4 435.4,195.3 434.9,194.8 434.4,194.7 433.9,195.2 433.4,195.2 432.9,195.4 432.4,194.6 431.9,194.8 431.4,195.3 430.9,195.3 430.4,195.0 429.9,194.7 429.4,194.8 428.9,195.1 428.4,195.2 427.9,195.1 427.4,194.7 426.9,194.7 426.4,195.2 425.9,195.5 425.4,195.2 424.9,194.6 424.4,194.9 423.9,194.9 423.4,195.3 422.9,194.9 422.4,194.4 421.9,194.6 421.4,194.7 420.9,194.6 420.4,194.4 419.9,194.0 419.4,194.0 418.9,194.0 418.4,193.9 417.9,192.8 417.4,191.6 416.9,190.8 416.4,189.9 415.9,190.4 415.4,195.9 414.9,201.4 414.4,201.1 413.9,173.8 413.4,173.8 412.9,173.8 412.4,173.5 411.9,173.6 411.4,174.0 410.9,174.0 410.4,173.6 409.9,173.5 409.4,174.0 408.9,174.0 408.4,174.1 407.9,173.8 407.4,173.6 406.9,173.9 406.4,174.1 405.9,174.2 405.4,173.7 404.9,173.6 404.4,173.7 403.9,174.0 403.4,174.0 402.9,173.7 402.4,173.7 401.9,174.0 401.4,174.1 400.9,174.0 400.4,173.7 399.9,173.8 399.4,174.1 398.9,174.2 398.4,174.1 397.9,173.8 397.4,173.7 396.9,174.0 396.4,174.3 395.9,174.1 395.4,173.7 394.9,173.9 394.4,174.1 393.9,174.4 393.4,174.1 392.9,173.7 392.4,173.8 391.9,174.2 391.4,174.4 390.9,173.9 390.4,173.8 389.9,173.9 389.4,174.1 388.9,174.4 388.4,174.0 387.9,173.6 387.4,173.9 386.9,174.2 386.4,174.3 385.9,174.0 385.4,173.9 384.9,173.9 384.4,174.7 383.9,174.3 383.4,174.1 382.9,173.7 382.4,174.2 381.9,174.2 381.4,174.5 380.9,174.1 380.4,173.7 379.9,174.3 379.4,174.4 378.9,174.5 378.4,174.2 377.9,173.8 377.4,174.3 376.9,174.3 376.4,174.3 375.9,174.0 375.4,173.8 374.9,174.2 374.4,174.3 373.9,174.3 373.4,174.2 372.9,173.9 372.4,174.6 371.9,174.3 371.4,174.3 370.9,174.0 370.4,174.0 369.9,174.2 369.4,174.6 368.9,174.2 368.4,174.0 367.9,174.0 367.4,174.5 366.9,174.7 366.4,174.5 365.9,173.9 365.4,174.2 364.9,174.3 364.4,174.6 363.9,174.3 363.4,174.0 362.9,174.1 362.4,174.5 361.9,174.6 361.4,174.3 360.9,174.0 360.4,174.3 359.9,174.6 359.4,174.5 358.9,174.1 358.4,174.0 357.9,174.1 357.4,174.5 356.9,174.6 356.4,174.4 355.9,174.0 355.4,174.5 354.9,174.5 354.4,174.7 353.9,174.5 353.4,174.1 352.9,174.3 352.4,174.7 351.9,174.7 351.4,174.4 350.9,174.1 350.4,174.5 349.9,174.7 349.4,174.7 348.9,174.4 348.4,174.3 347.9,174.6 347.4,174.8 346.9,174.8 346.4,174.3 345.9,174.2 345.4,174.4 344.9,174.7 344.4,174.6 343.9,174.2 343.4,174.2 342.9,174.6 342.4,174.9 341.9,174.7 341.4,174.3 340.9,174.2 340.4,174.8 339.9,174.8 339.4,174.6 338.9,174.4 338.4,174.3 337.9,174.7 337.4,174.8 336.9,174.6 336.4,174.2 335.9,174.6 335.4,174.7 334.9,174.8 334.4,174.7 333.9,174.4 333.4,174.5 332.9,174.9 332.4,174.9 331.9,174.7 331.4,174.3 330.9,174.4 330.4,174.8 329.9,174.7 329.4,174.7 328.9,174.3 328.4,174.5 327.9,174.7 327.4,174.9 326.9,174.5 326.4,174.4 325.9,174.6 325.4,174.8 324.9,174.8 324.4,174.7 323.9,174.4 323.4,174.3 322.9,174.6 322.4,174.8 321.9,174.5 321.4,174.5 320.9,174.2 320.4,174.7 319.9,174.8 319.4,174.2 318.9,173.8 318.4,173.9 317.9,174.0 317.4,174.0 316.9,173.4 316.4,173.1 315.9,173.0 315.4,172.9 314.9,172.8 314.4,172.2 313.9,171.9 313.4,171.5 312.9,171.5 312.4,170.8 311.9,169.9 311.4,169.1 310.9,168.4 310.4,167.9 309.9,166.4 309.4,164.8 308.9,162.9 308.4,166.8 307.9,173.3 307.4,179.9 306.9,179.5 306.4,149.0 305.9,142.5 305.4,136.6 304.9,138.2 304.4,124.7 303.9,109.0 303.4,107.5 302.9,107.7 302.4,107.5 301.9,107.0 301.4,107.1 300.9,107.4 300.4,107.5 299.9,107.5 299.4,106.7 298.9,106.8 298.4,107.3 297.9,107.4 297.4,107.2 296.9,106.6 296.4,106.8 295.9,107.1 295.4,107.4 294.9,106.8 294.4,106.4 293.9,106.6 293.4,106.9 292.9,106.8 292.4,106.7 291.9,106.3 291.4,106.6 290.9,106.8 290.4,106.9 289.9,106.6 289.4,106.1 288.9,106.4 288.4,106.5 287.9,106.2 287.4,105.8 286.9,105.8 286.4,105.9 285.9,106.1 285.4,106.0 284.9,105.5 284.4,105.3 283.9,105.6 283.4,106.0 282.9,105.5 282.4,105.2 281.9,104.9 281.4,105.4 280.9,105.2 280.4,105.2 279.9,105.1 279.4,104.5 278.9,104.7 278.4,105.0 277.9,104.3 277.4,104.0 276.9,103.9 276.4,104.2 275.9,104.4 275.4,103.9 274.9,103.3 274.4,103.3 273.9,103.2 273.4,103.2 272.9,103.0 272.4,102.3 271.9,102.1 271.4,101.8 270.9,101.5 270.4,102.9 269.9,120.7 269.4,133.1 268.9,132.7 268.4,140.6 267.9,135.3 267.4,147.9 266.9,165.1 266.4,170.9 265.9,170.8 265.4,170.7 264.9,170.4 264.4,170.7 263.9,171.0 263.4,171.0 262.9,170.6 262.4,170.3 261.9,170.4 261.4,170.8 260.9,170.9 260.4,170.4 259.9,170.2 259.4,170.4 258.9,170.8 258.4,170.7 257.9,170.4 257.4,170.3 256.9,170.6 256.4,170.8 255.9,170.5 255.4,170.3 254.9,170.2 254.4,170.5 253.9,170.8 253.4,170.6 252.9,170.2 252.4,170.3 251.9,170.4 251.4,170.8 250.9,170.5 250.4,170.2 249.9,170.0 249.4,170.3 248.9,170.7 248.4,170.4 247.9,170.1 247.4,170.0 246.9,170.4 246.4,170.5 245.9,170.4 245.4,170.1 244.9,170.0 244.4,170.2 243.9,170.6 243.4,170.3 242.9,170.0 242.4,170.0 241.9,170.5 241.4,170.5 240.9,170.2 240.4,169.9 239.9,169.9 239.4,170.1 238.9,170.4 238.4,170.3 237.9,169.7 237.4,169.9 236.9,170.1 236.4,170.4 235.9,170.1 235.4,169.8 234.9,169.9 234.4,170.3 233.9,170.2 233.4,170.0 232.9,169.7 232.4,169.9 231.9,170.1 231.4,170.2 230.9,169.9 230.4,169.5 229.9,169.8 229.4,170.0 228.9,170.1 228.4,169.7 227.9,169.7 227.4,169.8 226.9,170.2 226.4,170.1 225.9,169.7 225.4,169.4 224.9,169.8 224.4,170.0 223.9,169.9 223.4,169.6 222.9,169.5 222.4,169.7 221.9,170.0 221.4,169.8 220.9,169.5 220.4,169.4 219.9,169.6 219.4,169.9 218.9,169.7 218.4,169.5 217.9,169.3 217.4,169.6 216.9,169.8 216.4,169.8 215.9,169.4 215.4,169.6 214.9,169.7 214.4,169.8 213.9,169.7 213.4,169.5 212.9,169.2 212.4,169.8 211.9,169.6 211.4,169.6 210.9,169.1 210.4,169.2 209.9,169.6 209.4,169.6 208.9,169.4 208.4,169.1 207.9,169.2 207.4,169.4 206.9,169.5 206.4,169.4 205.9,169.1 205.4,169.2 204.9,169.6 204.4,169.6 203.9,169.6 203.4,168.9 202.9,169.3 202.4,169.4 201.9,169.6 201.4,169.1 200.9,169.1 200.4,169.3 199.9,169.4 199.4,169.5 198.9,169.2 198.4,168.9 197.9,169.0 197.4,169.4 196.9,169.3 196.4,169.3 195.9,169.0 195.4,169.1 194.9,169.2 194.4,169.2 193.9,169.0 193.4,168.8 192.9,169.1 192.4,169.1 191.9,169.2 191.4,168.8 190.9,168.8 190.4,169.1 189.9,169.2 189.4,169.3 188.9,168.8 188.4,168.8 187.9,169.0 187.4,169.0 186.9,169.0 186.4,168.6 185.9,168.6 185.4,169.0 184.9,169.2 184.4,169.2 183.9,168.7 183.4,168.6 182.9,168.8 182.4,169.0 181.9,169.0 181.4,168.7 180.9,168.5 180.4,168.8 179.9,169.1 179.4,168.8 178.9,168.5 178.4,168.5 177.9,168.9 177.4,168.9 176.9,168.5 176.4,168.5 175.9,168.6 175.4,169.0 174.9,168.9 174.4,168.8 173.9,168.2 173.4,168.5 172.9,168.7 172.4,168.8 171.9,168.7 171.4,168.2 170.9,168.7 170.4,168.7 169.9,168.7 169.4,168.5 168.9,168.2 168.4,168.6 167.9,168.6 167.4,180.8 166.9,188.6 166.4,188.6 165.9,189.0 165.4,189.2 164.9,189.1 164.4,189.1 163.9,188.6 163.4,188.8 162.9,189.2 162.4,189.1 161.9,188.8 161.4,188.7 160.9,188.7 160.4,189.0 159.9,189.0 159.4,188.7 158.9,188.4 158.4,189.0 157.9,189.0 157.4,188.9 156.9,188.4 156.4,188.4 155.9,188.7 155.4,188.9 154.9,188.9 154.4,188.3 153.9,188.1 153.4,188.7 152.9,188.9 152.4,188.7 151.9,188.1 151.4,188.3 150.9,188.6 150.4,188.7 149.9,188.5 149.4,188.2 148.9,188.2 148.4,188.5 147.9,188.7 147.4,188.4 146.9,188.1 146.4,188.0 145.9,188.3 145.4,188.6 144.9,188.2 144.4,187.8 143.9,188.0 143.4,188.3 142.9,188.4 142.4,188.3 141.9,187.8 141.4,187.9 140.9,188.3 140.4,188.3 139.9,187.8 139.4,187.6 138.9,187.8 138.4,188.3 137.9,188.0 137.4,187.6 136.9,187.6 136.4,187.7 135.9,187.9 135.4,187.9 134.9,187.5 134.4,187.4 133.9,187.6 133.4,187.8 132.9,187.7 132.4,187.5 131.9,187.1 131.4,187.4 130.9,187.7 130.4,187.5 129.9,187.1 129.4,186.9 128.9,187.4 128.4,187.6 127.9,187.4 127.4,186.8 126.9,187.1 126.4,187.3 125.9,187.5 125.4,187.1 124.9,186.7 124.4,186.7 123.9,186.9 123.4,187.4 122.9,187.1 122.4,186.8 121.9,186.5 121.4,187.1 120.9,187.2 120.4,186.8 119.9,186.5 119.4,186.5 118.9,186.8 118.4,186.8 117.9,186.6 117.4,186.3 116.9,186.4 116.4,186.6 115.9,186.7 115.4,186.9 114.9,186.0 114.4,186.2 113.9,186.5 113.4,186.5 112.9,186.3 112.4,186.1 111.9,186.1 111.4,186.5 110.9,186.5 110.4,186.2 109.9,185.8 109.4,185.9 108.9,186.3 108.4,186.4 107.9,185.9 107.4,185.6 106.9,186.4 106.4,186.4 105.9,186.0 105.4,185.9 104.9,185.4 104.4,185.8 103.9,185.9 103.4,186.0 102.9,185.7 102.4,185.4 101.9,185.7 101.4,185.8 100.9,185.8 100.4,185.5 99.9,185.1 99.4,185.5 98.9,185.7 98.4,185.6 97.9,185.4 97.4,185.1 96.9,185.4 96.4,185.8 95.9,185.4 95.4,185.1 94.9,184.9 94.4,185.3 93.9,185.4 93.4,185.2 92.9,184.6 92.4,184.8 91.9,185.1 91.4,185.4 90.9,185.0 90.4,184.6 89.9,184.4 89.4,184.7 88.9,185.0 88.4,184.7 87.9,184.1 87.4,184.3 86.9,184.7 86.4,184.9 85.9,184.5 85.4,184.1 84.9,184.2 84.4,184.3 83.9,184.6 83.4,184.4 82.9,183.9 82.4,184.0 81.9,184.3 81.4,184.4 80.9,183.9 80.4,183.7 79.9,183.9 79.4,184.0 78.9,184.3 78.4,183.7 77.9,183.3 77.4,183.9 76.9,183.9 76.4,183.9 75.9,183.7 75.4,183.2 74.9,183.6 74.4,183.8 73.9,183.7 73.4,183.3 72.9,183.0 72.4,183.4 71.9,183.5 71.4,183.4 70.9,183.2 70.4,182.9 69.9,183.3 69.4,183.4 68.9,183.3 68.4,183.3 67.9,182.6 67.4,183.1 66.9,183.2 66.4,183.0 65.9,182.5 65.4,182.5 64.9,182.9 64.4,183.0 63.9,182.9 63.4,182.2 62.9,182.3 62.4,182.8 61.9,183.0 61.4,182.7 60.9,182.2 60.4,182.1 59.9,182.5 59.4,182.5 58.9,182.5 58.4,182.0 57.9,181.8 57.4,182.3 56.9,182.5 56.4,182.1" fill="#0072bd" stroke="#0072bd" stroke-width="1.2" stroke-linejoin="round"/>
<g stroke="#111" stroke-width="1.6" fill="#111">
<path d="M263.2 132.2H202" fill="none"/><path d="M198.1 132.2L205 128.5L203.2 132.2L205 135.9Z" stroke-width="0.5" stroke-linejoin="round"/>
<path d="M308 130.8H369" fill="none"/><path d="M373.6 130.8L366.8 127.1L368.6 130.8L366.8 134.5Z" stroke-width="0.5" stroke-linejoin="round"/>
</g>
<rect x="85.5" y="110.4" width="73.1" height="37.5" fill="#fff"/>
<path d="M93.5 110.4V147.9M104.3 110.4V147.9M115.1 110.4V147.9M125.9 110.4V147.9M136.7 110.4V147.9M147.5 110.4V147.9M85.5 116.3H158.6M85.5 121.9H158.6M85.5 127.5H158.6M85.5 133.1H158.6M85.5 138.7H158.6M85.5 144.3H158.6" stroke="#f3f3f3" stroke-width="0.8" fill="none"/>
<rect x="85.5" y="110.4" width="73.1" height="37.5" fill="none" stroke="#bebebe" stroke-width="1"/>
<clipPath id="c1"><rect x="85.0" y="109.9" width="74.1" height="38.5"/></clipPath>
<g clip-path="url(#c1)">
<path d="M114.6 148L115.2 110.6L116 116L117 122L118.2 128L119.6 133L121 137.5L122.6 141.5L124 144.5L125.4 146.6L127 148" fill="none" stroke="#ff2e0c" stroke-width="1.7" stroke-linejoin="round"/>
<polygon points="85.5,143.6 85.9,143.7 86.3,143.5 86.7,143.3 87.1,143.1 87.5,143.4 87.9,143.5 88.3,143.6 88.7,143.2 89.1,143.0 89.5,143.3 89.9,143.7 90.3,143.6 90.7,143.0 91.1,143.4 91.5,143.8 91.9,143.4 92.3,143.7 92.7,143.6 93.1,143.5 93.5,143.6 93.9,143.3 94.3,143.4 94.7,143.5 95.1,143.3 95.5,143.2 95.9,143.8 96.3,143.5 96.7,143.6 97.1,143.4 97.5,143.7 97.9,143.4 98.3,143.4 98.7,143.5 99.1,143.7 99.5,143.5 99.9,143.7 100.3,143.7 100.7,143.3 101.1,143.7 101.5,143.1 101.9,143.2 102.3,143.9 102.7,143.3 103.1,143.7 103.5,143.4 103.9,143.4 104.3,143.9 104.7,143.5 105.1,143.5 105.5,143.2 105.9,143.7 106.3,143.2 106.7,143.7 107.1,143.5 107.5,143.6 107.9,143.1 108.3,143.3 108.7,142.8 109.1,143.2 109.5,143.2 109.9,143.2 110.3,143.5 110.7,143.4 111.1,143.1 111.5,143.5 111.9,143.4 112.3,143.4 112.7,143.3 113.1,143.5 113.5,143.4 113.9,143.3 114.3,143.4 114.7,143.6 115.1,143.2 115.5,143.7 115.9,143.7 116.3,143.8 116.7,143.3 117.1,141.5 117.5,139.1 117.9,136.6 118.3,134.1 118.7,132.2 119.1,130.4 119.5,128.4 119.9,127.8 120.3,127.4 120.7,127.3 121.1,128.2 121.5,129.1 121.9,129.5 122.3,129.0 122.7,128.5 123.1,128.0 123.5,126.9 123.9,125.8 124.3,119.1 124.7,112.7 125.1,112.4 125.5,111.9 125.9,111.3 126.3,111.1 126.7,111.2 127.1,111.1 127.5,110.7 127.9,111.0 128.3,111.4 128.7,110.8 129.1,111.0 129.5,111.3 129.9,110.9 130.3,111.1 130.7,111.3 131.1,111.3 131.5,111.3 131.9,111.1 132.3,110.9 132.7,111.2 133.1,111.1 133.5,110.7 133.9,111.4 134.3,111.1 134.7,111.2 135.1,111.4 135.5,111.4 135.9,111.2 136.3,111.1 136.7,111.3 137.1,111.2 137.5,111.0 137.9,111.1 138.3,111.0 138.7,111.1 139.1,111.1 139.5,110.8 139.9,111.0 140.3,111.2 140.7,111.0 141.1,111.4 141.5,111.3 141.9,111.0 142.3,111.1 142.7,110.9 143.1,111.2 143.5,111.5 143.9,110.8 144.3,111.0 144.7,111.4 145.1,110.9 145.5,111.2 145.9,111.6 146.3,111.3 146.7,111.3 147.1,110.9 147.5,111.4 147.9,111.3 148.3,111.3 148.7,111.3 149.1,111.4 149.5,111.2 149.9,111.0 150.3,111.1 150.7,111.5 151.1,111.5 151.5,111.2 151.9,111.4 152.3,111.4 152.7,111.6 153.1,110.8 153.5,111.1 153.9,111.5 154.3,111.1 154.7,111.0 155.1,111.8 155.5,111.4 155.9,111.4 156.3,111.1 156.7,111.3 157.1,111.3 157.5,111.3 157.9,110.9 157.9,114.7 157.5,114.3 157.1,114.2 156.7,114.2 156.3,114.4 155.9,114.2 155.5,114.1 155.1,113.7 154.7,114.5 154.3,114.4 153.9,114.0 153.5,114.4 153.1,114.7 152.7,113.9 152.3,114.1 151.9,114.1 151.5,114.2 151.1,113.9 150.7,114.0 150.3,114.3 149.9,114.4 149.5,114.2 149.1,114.0 148.7,114.1 148.3,114.1 147.9,114.1 147.5,114.0 147.1,114.5 146.7,114.0 146.3,114.1 145.9,113.7 145.5,114.1 145.1,114.4 144.7,113.9 144.3,114.4 143.9,114.5 143.5,113.8 143.1,114.1 142.7,114.4 142.3,114.2 141.9,114.3 141.5,114.0 141.1,113.9 140.7,114.2 140.3,114.1 139.9,114.2 139.5,114.5 139.1,114.2 138.7,114.2 138.3,114.2 137.9,114.1 137.5,114.2 137.1,114.0 136.7,113.9 136.3,114.1 135.9,114.0 135.5,113.8 135.1,113.8 134.7,113.9 134.3,114.1 133.9,113.7 133.5,114.4 133.1,114.1 132.7,113.9 132.3,114.2 131.9,114.0 131.5,113.8 131.1,113.8 130.7,113.8 130.3,114.0 129.9,114.1 129.5,113.7 129.1,114.0 128.7,114.3 128.3,113.6 127.9,114.0 127.5,114.3 127.1,113.9 126.7,113.8 126.3,113.9 125.9,113.8 125.5,113.6 125.1,113.5 124.7,113.6 124.3,120.1 123.9,126.7 123.5,127.9 123.1,128.7 122.7,129.3 122.3,129.9 121.9,130.7 121.5,130.0 121.1,129.1 120.7,128.3 120.3,128.3 119.9,128.6 119.5,129.5 119.1,131.2 118.7,133.0 118.3,135.1 117.9,137.5 117.5,139.9 117.1,142.4 116.7,145.4 116.3,146.2 115.9,146.3 115.5,146.3 115.1,146.8 114.7,146.4 114.3,146.6 113.9,146.7 113.5,146.6 113.1,146.5 112.7,146.7 112.3,146.6 111.9,146.6 111.5,146.5 111.1,146.9 110.7,146.6 110.3,146.5 109.9,146.8 109.5,146.8 109.1,146.8 108.7,147.2 108.3,146.7 107.9,146.9 107.5,146.4 107.1,146.5 106.7,146.3 106.3,146.8 105.9,146.3 105.5,146.8 105.1,146.5 104.7,146.5 104.3,146.1 103.9,146.6 103.5,146.6 103.1,146.3 102.7,146.7 102.3,146.1 101.9,146.8 101.5,146.9 101.1,146.3 100.7,146.7 100.3,146.3 99.9,146.3 99.5,146.5 99.1,146.3 98.7,146.5 98.3,146.6 97.9,146.6 97.5,146.3 97.1,146.6 96.7,146.4 96.3,146.5 95.9,146.2 95.5,146.8 95.1,146.7 94.7,146.5 94.3,146.6 93.9,146.7 93.5,146.4 93.1,146.5 92.7,146.4 92.3,146.3 91.9,146.6 91.5,146.2 91.1,146.6 90.7,147.0 90.3,146.4 89.9,146.3 89.5,146.7 89.1,147.0 88.7,146.8 88.3,146.4 87.9,146.5 87.5,146.6 87.1,146.9 86.7,146.7 86.3,146.5 85.9,146.3 85.5,146.4" fill="#0072bd" stroke="#0072bd" stroke-width="1.2" stroke-linejoin="round"/>
</g>
<rect x="422.6" y="105.7" width="87.6" height="46.2" fill="#fff"/>
<path d="M436.1 105.7V151.9M449.6 105.7V151.9M463.1 105.7V151.9M476.6 105.7V151.9M490.1 105.7V151.9M503.6 105.7V151.9M422.6 112.0H510.2M422.6 118.3H510.2M422.6 124.6H510.2M422.6 130.9H510.2M422.6 137.2H510.2M422.6 143.5H510.2M422.6 149.8H510.2" stroke="#f3f3f3" stroke-width="0.8" fill="none"/>
<rect x="422.6" y="105.7" width="87.6" height="46.2" fill="none" stroke="#bebebe" stroke-width="1"/>
<clipPath id="c2"><rect x="422.1" y="104.9" width="88.6" height="47.8"/></clipPath>
<g clip-path="url(#c2)">
<path d="M456.4 152.5L457.0 141L458.0 132L459.4 125L461.2 105.0" fill="none" stroke="#ff2e0c" stroke-width="1.6" stroke-linejoin="round"/>
<path d="M456.6 152.5L456.9 135.6" fill="none" stroke="#ff2e0c" stroke-width="2.4"/>
<polygon points="422.8,106.0 423.2,105.8 423.6,106.6 424.0,106.2 424.4,106.0 424.8,105.9 425.2,106.0 425.6,105.9 426.0,106.1 426.4,106.1 426.8,106.1 427.2,106.3 427.6,106.3 428.0,106.1 428.4,106.3 428.8,105.9 429.2,105.9 429.6,105.9 430.0,106.2 430.4,105.9 430.8,106.3 431.2,106.3 431.6,106.2 432.0,106.1 432.4,106.5 432.8,106.5 433.2,106.1 433.6,106.3 434.0,106.0 434.4,106.1 434.8,106.1 435.2,106.2 435.6,106.0 436.0,106.2 436.4,106.0 436.8,106.3 437.2,106.2 437.6,106.3 438.0,106.1 438.4,106.2 438.8,106.3 439.2,105.9 439.6,106.3 440.0,106.2 440.4,106.1 440.8,105.9 441.2,106.2 441.6,106.1 442.0,106.2 442.4,106.5 442.8,106.1 443.2,106.0 443.6,106.3 444.0,106.2 444.4,106.5 444.8,106.5 445.2,106.3 445.6,106.1 446.0,106.3 446.4,106.2 446.8,106.1 447.2,106.2 447.6,106.1 448.0,106.0 448.4,106.4 448.8,106.1 449.2,106.6 449.6,106.2 450.0,106.2 450.4,106.3 450.8,106.4 451.2,106.2 451.6,106.3 452.0,106.2 452.4,106.4 452.8,106.1 453.2,106.4 453.6,106.3 454.0,106.3 454.4,106.0 454.8,106.5 455.2,106.3 455.6,106.0 456.0,106.4 456.4,106.5 456.8,106.4 457.2,109.1 457.6,113.5 458.0,123.2 458.4,132.6 458.8,132.8 459.2,129.8 459.6,127.4 460.0,124.2 460.4,127.3 460.8,130.2 461.2,134.6 461.6,139.1 462.0,142.8 462.4,146.2 462.8,149.5 463.2,150.8 463.6,150.2 464.0,149.5 464.4,147.2 464.8,144.6 465.2,141.9 465.6,141.1 466.0,142.0 466.4,142.6 466.8,143.2 467.2,143.9 467.6,143.9 468.0,144.3 468.4,144.8 468.8,145.3 469.2,145.4 469.6,145.9 470.0,145.8 470.4,146.2 470.8,146.2 471.2,146.6 471.6,146.4 472.0,146.5 472.4,146.5 472.8,147.2 473.2,147.4 473.6,146.9 474.0,147.2 474.4,147.1 474.8,147.2 475.2,147.3 475.6,147.2 476.0,147.3 476.4,147.4 476.8,147.7 477.2,147.1 477.6,147.4 478.0,147.2 478.4,147.4 478.8,147.2 479.2,147.4 479.6,147.4 480.0,147.4 480.4,147.7 480.8,147.6 481.2,147.5 481.6,147.5 482.0,147.7 482.4,146.9 482.8,147.7 483.2,147.6 483.6,146.9 484.0,147.6 484.4,147.3 484.8,147.3 485.2,147.5 485.6,147.8 486.0,147.9 486.4,147.5 486.8,147.4 487.2,148.0 487.6,147.4 488.0,147.7 488.4,147.3 488.8,147.4 489.2,147.7 489.6,147.6 490.0,147.5 490.4,147.1 490.8,146.7 491.2,147.4 491.6,147.5 492.0,147.3 492.4,147.5 492.8,147.3 493.2,147.4 493.6,147.5 494.0,147.7 494.4,147.4 494.8,147.2 495.2,147.4 495.6,147.1 496.0,147.2 496.4,147.5 496.8,147.0 497.2,147.8 497.6,147.2 498.0,147.0 498.4,147.5 498.8,147.5 499.2,147.2 499.6,147.1 500.0,147.3 500.4,147.4 500.8,147.2 501.2,147.4 501.6,147.8 502.0,147.5 502.4,147.5 502.8,147.9 503.2,147.4 503.6,147.7 504.0,147.3 504.4,147.9 504.8,147.7 505.2,147.9 505.6,147.1 506.0,147.1 506.4,147.1 506.8,147.1 507.2,147.2 507.6,147.2 508.0,147.9 508.4,147.4 508.8,147.6 509.2,147.6 509.6,147.8 509.6,150.8 509.2,151.0 508.8,151.0 508.4,151.2 508.0,150.7 507.6,151.3 507.2,151.3 506.8,151.5 506.4,151.5 506.0,151.4 505.6,151.4 505.2,150.7 504.8,150.8 504.4,150.7 504.0,151.3 503.6,150.9 503.2,151.2 502.8,150.7 502.4,151.0 502.0,151.0 501.6,150.7 501.2,151.1 500.8,151.3 500.4,151.1 500.0,151.1 499.6,151.4 499.2,151.3 498.8,151.0 498.4,150.9 498.0,151.5 497.6,151.3 497.2,150.7 496.8,151.4 496.4,150.9 496.0,151.2 495.6,151.4 495.2,151.0 494.8,151.2 494.4,151.0 494.0,150.7 493.6,150.9 493.2,151.0 492.8,151.1 492.4,150.9 492.0,151.1 491.6,150.9 491.2,151.0 490.8,151.7 490.4,151.2 490.0,150.9 489.6,150.8 489.2,150.7 488.8,150.9 488.4,151.1 488.0,150.7 487.6,150.9 487.2,150.3 486.8,150.9 486.4,150.8 486.0,150.4 485.6,150.5 485.2,150.8 484.8,151.0 484.4,151.0 484.0,150.6 483.6,151.4 483.2,150.7 482.8,150.6 482.4,151.4 482.0,150.5 481.6,150.8 481.2,150.7 480.8,150.6 480.4,150.6 480.0,150.8 479.6,150.8 479.2,150.8 478.8,151.1 478.4,150.8 478.0,151.0 477.6,150.8 477.2,151.2 476.8,150.5 476.4,150.8 476.0,150.9 475.6,150.9 475.2,150.6 474.8,150.5 474.4,150.5 474.0,150.2 473.6,150.3 473.2,149.7 472.8,149.7 472.4,150.3 472.0,150.1 471.6,150.0 471.2,149.4 470.8,149.3 470.4,148.7 470.0,148.6 469.6,148.0 469.2,147.9 468.8,147.5 468.4,147.4 468.0,146.8 467.6,146.1 467.2,145.0 466.8,144.6 466.4,143.9 466.0,142.7 465.6,141.8 465.2,142.7 464.8,145.2 464.4,147.7 464.0,150.5 463.6,151.1 463.2,151.7 462.8,150.4 462.4,147.1 462.0,143.9 461.6,140.9 461.2,136.4 460.8,131.8 460.4,129.1 460.0,126.6 459.6,129.0 459.2,132.2 458.8,135.0 458.4,134.6 458.0,124.8 457.6,115.3 457.2,110.3 456.8,108.4 456.4,108.3 456.0,108.4 455.6,108.8 455.2,108.5 454.8,108.3 454.4,108.8 454.0,108.5 453.6,108.5 453.2,108.4 452.8,108.6 452.4,108.4 452.0,108.6 451.6,108.5 451.2,108.5 450.8,108.3 450.4,108.4 450.0,108.6 449.6,108.6 449.2,108.2 448.8,108.7 448.4,108.3 448.0,108.8 447.6,108.6 447.2,108.5 446.8,108.7 446.4,108.6 446.0,108.4 445.6,108.6 445.2,108.4 444.8,108.3 444.4,108.3 444.0,108.5 443.6,108.5 443.2,108.7 442.8,108.6 442.4,108.3 442.0,108.5 441.6,108.6 441.2,108.5 440.8,108.8 440.4,108.6 440.0,108.5 439.6,108.4 439.2,108.8 438.8,108.3 438.4,108.5 438.0,108.6 437.6,108.4 437.2,108.5 436.8,108.4 436.4,108.7 436.0,108.5 435.6,108.6 435.2,108.5 434.8,108.5 434.4,108.6 434.0,108.7 433.6,108.3 433.2,108.5 432.8,108.2 432.4,108.2 432.0,108.5 431.6,108.5 431.2,108.3 430.8,108.3 430.4,108.7 430.0,108.5 429.6,108.8 429.2,108.7 428.8,108.7 428.4,108.4 428.0,108.5 427.6,108.3 427.2,108.3 426.8,108.5 426.4,108.6 426.0,108.5 425.6,108.7 425.2,108.6 424.8,108.7 424.4,108.6 424.0,108.4 423.6,108.0 423.2,108.8 422.8,108.6" fill="#0072bd" stroke="#0072bd" stroke-width="1.2" stroke-linejoin="round"/>
</g>
<rect x="473.1" y="18.1" width="57.6" height="27.8" fill="#fff" stroke="#c6c6c6" stroke-width="0.9"/>
<path d="M475.5 25.8H491" stroke="#ff2e0c" stroke-width="1.3"/><path d="M475.5 39H491" stroke="#0072bd" stroke-width="1.3"/>
<g font-family="'Liberation Serif', serif" fill="#111">
<text x="492.8" y="29.7" font-size="11.7">Id - NN</text>
<text x="492.8" y="42.9" font-size="11.7">Iq - NN</text>
<g font-size="13" fill="#1c1c1c">
<text x="47.8" y="18.1" text-anchor="end">1.5</text>
<text x="47.8" y="76.7" text-anchor="end">1</text>
<text x="47.8" y="135.3" text-anchor="end">0.5</text>
<text x="47.8" y="193.9" text-anchor="end">0</text>
<text x="47.8" y="252.5" text-anchor="end">-0.5</text>
<text x="93.3" y="269" text-anchor="middle">0.2</text>
<text x="142.6" y="269" text-anchor="middle">0.4</text>
<text x="191.8" y="269" text-anchor="middle">0.6</text>
<text x="241.1" y="269" text-anchor="middle">0.8</text>
<text x="290.3" y="269" text-anchor="middle">1</text>
<text x="339.6" y="269" text-anchor="middle">1.2</text>
<text x="388.8" y="269" text-anchor="middle">1.4</text>
<text x="438.1" y="269" text-anchor="middle">1.6</text>
<text x="487.3" y="269" text-anchor="middle">1.8</text>
<text x="536.6" y="269" text-anchor="middle">2</text>
</g>
<text x="296.6" y="285" font-size="14.3" font-weight="bold" text-anchor="middle" fill="#111">Time (sec)</text>
<text transform="translate(21.0 130.5) rotate(-90)" font-size="14.3" font-weight="bold" text-anchor="middle" fill="#111">Id &amp; Iq (p.u)</text>
</g>
</svg>
</body></html>
